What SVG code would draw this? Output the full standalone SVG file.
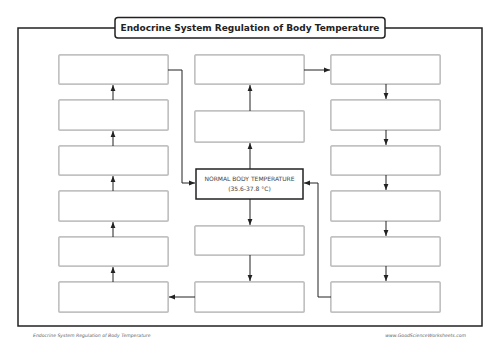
<svg xmlns="http://www.w3.org/2000/svg" width="500" height="354" viewBox="0 0 500 354">
<style>
.box{fill:#fff;stroke:#c4c4c4;stroke-width:1.4}
.c{fill:none;stroke:#222;stroke-width:1}
.t{font-family:"DejaVu Sans",Verdana,sans-serif}
</style>
<defs>
<marker id="ah" viewBox="0 0 6 6" refX="6" refY="3" markerWidth="6" markerHeight="6" markerUnits="userSpaceOnUse" orient="auto">
<path d="M0,0.6 L6,3 L0,5.4 Z" fill="#222"/>
</marker>
<filter id="sh" x="-10%" y="-20%" width="120%" height="140%">
<feGaussianBlur stdDeviation="0.6"/>
</filter>
</defs>
<rect width="500" height="354" fill="#fff"/>
<rect id="frame" x="18" y="28" width="464" height="298" fill="none" stroke="#222" stroke-width="1.5"/>
<g id="title">
<rect x="115" y="17.5" width="270" height="20.5" rx="3" fill="#fff" stroke="#222" stroke-width="1.5"/>
<text class="t" x="250" y="31.2" text-anchor="middle" font-size="9" font-weight="bold" fill="#222">Endocrine System Regulation of Body Temperature</text>
</g>
<g id="shadows" filter="url(#sh)" fill="none" stroke="#bdbdbd" stroke-width="2">
<rect x="59" y="55" width="109" height="29" rx="1.5"/>
<rect x="59" y="100" width="109" height="30" rx="1.5"/>
<rect x="59" y="146" width="109" height="29" rx="1.5"/>
<rect x="59" y="191" width="109" height="30" rx="1.5"/>
<rect x="59" y="237" width="109" height="29" rx="1.5"/>
<rect x="59" y="282" width="109" height="30" rx="1.5"/>
<rect x="195" y="55" width="109" height="29" rx="1.5"/>
<rect x="195" y="111" width="109" height="31" rx="1.5"/>
<rect x="195" y="226" width="109" height="29" rx="1.5"/>
<rect x="195" y="282" width="109" height="30" rx="1.5"/>
<rect x="331" y="55" width="109" height="29" rx="1.5"/>
<rect x="331" y="100" width="109" height="30" rx="1.5"/>
<rect x="331" y="146" width="109" height="29" rx="1.5"/>
<rect x="331" y="191" width="109" height="30" rx="1.5"/>
<rect x="331" y="237" width="109" height="29" rx="1.5"/>
<rect x="331" y="282" width="109" height="30" rx="1.5"/>
</g>
<g id="L1"><rect class="box" x="59" y="55" width="109" height="29" rx="1.5"/></g>
<g id="L2"><rect class="box" x="59" y="100" width="109" height="30" rx="1.5"/></g>
<g id="L3"><rect class="box" x="59" y="146" width="109" height="29" rx="1.5"/></g>
<g id="L4"><rect class="box" x="59" y="191" width="109" height="30" rx="1.5"/></g>
<g id="L5"><rect class="box" x="59" y="237" width="109" height="29" rx="1.5"/></g>
<g id="L6"><rect class="box" x="59" y="282" width="109" height="30" rx="1.5"/></g>
<g id="M1"><rect class="box" x="195" y="55" width="109" height="29" rx="1.5"/></g>
<g id="M2"><rect class="box" x="195" y="111" width="109" height="31" rx="1.5"/></g>
<g id="center">
<rect x="196" y="169" width="107" height="30" fill="#fff" stroke="#222" stroke-width="1.5"/>
<text class="t" x="249.5" y="181.2" text-anchor="middle" font-size="6" fill="#444">NORMAL BODY TEMPERATURE</text>
<text class="t" x="249.5" y="191.2" text-anchor="middle" font-size="6" fill="#444">(35.6-37.8 °C)</text>
</g>
<g id="M4"><rect class="box" x="195" y="226" width="109" height="29" rx="1.5"/></g>
<g id="M5"><rect class="box" x="195" y="282" width="109" height="30" rx="1.5"/></g>
<g id="R1"><rect class="box" x="331" y="55" width="109" height="29" rx="1.5"/></g>
<g id="R2"><rect class="box" x="331" y="100" width="109" height="30" rx="1.5"/></g>
<g id="R3"><rect class="box" x="331" y="146" width="109" height="29" rx="1.5"/></g>
<g id="R4"><rect class="box" x="331" y="191" width="109" height="30" rx="1.5"/></g>
<g id="R5"><rect class="box" x="331" y="237" width="109" height="29" rx="1.5"/></g>
<g id="R6"><rect class="box" x="331" y="282" width="109" height="30" rx="1.5"/></g>
<g id="connectors">
<path class="c" d="M113,282 V267" marker-end="url(#ah)"/>
<path class="c" d="M113,237 V222" marker-end="url(#ah)"/>
<path class="c" d="M113,191 V176" marker-end="url(#ah)"/>
<path class="c" d="M113,146 V131" marker-end="url(#ah)"/>
<path class="c" d="M113,100 V85" marker-end="url(#ah)"/>
<path class="c" d="M168,70 H182 V183 H195" marker-end="url(#ah)"/>
<path class="c" d="M250,169 V143" marker-end="url(#ah)"/>
<path class="c" d="M250,111 V85" marker-end="url(#ah)"/>
<path class="c" d="M304,70 H330" marker-end="url(#ah)"/>
<path class="c" d="M386,84 V99" marker-end="url(#ah)"/>
<path class="c" d="M386,130 V145" marker-end="url(#ah)"/>
<path class="c" d="M386,175 V190" marker-end="url(#ah)"/>
<path class="c" d="M386,221 V236" marker-end="url(#ah)"/>
<path class="c" d="M386,266 V281" marker-end="url(#ah)"/>
<path class="c" d="M331,297 H318 V183 H304" marker-end="url(#ah)"/>
<path class="c" d="M250,199 V225" marker-end="url(#ah)"/>
<path class="c" d="M250,255 V281" marker-end="url(#ah)"/>
<path class="c" d="M195,297 H169" marker-end="url(#ah)"/>
</g>
<g id="footer" class="t" font-size="4.6" font-style="italic" fill="#666">
<text x="33" y="336.5">Endocrine System Regulation of Body Temperature</text>
<text x="466" y="336.5" text-anchor="end">www.GoodScienceWorksheets.com</text>
</g>
</svg>
